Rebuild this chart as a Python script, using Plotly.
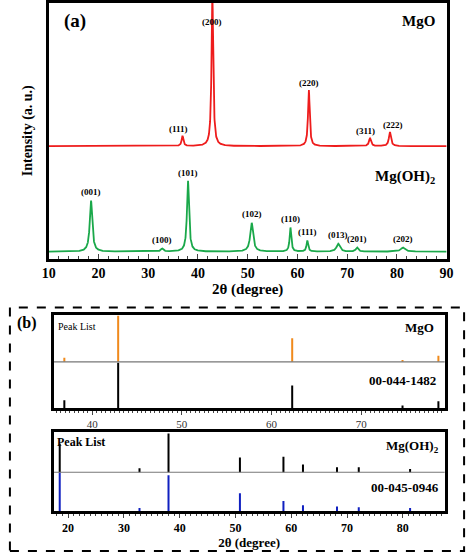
import numpy as np
import plotly.graph_objects as go

W, H = 474, 552
SERIF = "Liberation Serif"

mgo_pos = [36.9, 42.9, 62.3, 74.6, 78.6]
mgo_hkl = ["(111)", "(200)", "(220)", "(311)", "(222)"]
mgo_amp = [0.04, 0.60, 0.22, 0.03, 0.055]
mgo_wid = [0.2, 0.2, 0.2, 0.25, 0.25]
mgo_base = 0.44

moh_pos = [18.5, 32.8, 38.0, 50.8, 58.6, 62.0, 68.2, 72.0, 81.2]
moh_hkl = ["(001)", "(100)", "(101)", "(102)", "(110)", "(111)", "(013)", "(201)", "(202)"]
moh_amp = [0.20, 0.012, 0.277, 0.113, 0.094, 0.043, 0.031, 0.016, 0.016]
moh_wid = [0.3, 0.3, 0.25, 0.35, 0.2, 0.2, 0.4, 0.3, 0.5]
moh_base = 0.027

# ---- panel (b): reference stick patterns ----
ref_mgo_pos = [36.9, 42.9, 62.3, 74.6, 78.6]
ref_mgo_meas = [0.09, 1.0, 0.51, 0.04, 0.13]   # orange, above divider
ref_mgo_card = [0.17, 0.98, 0.49, 0.06, 0.15]  # black, card 00-044-1482

ref_moh_pos = [18.5, 32.8, 38.0, 50.8, 58.6, 62.1, 68.2, 72.1, 81.3]
ref_moh_meas = [0.73, 0.10, 1.0, 0.38, 0.40, 0.20, 0.13, 0.13, 0.08]  # black
ref_moh_card = [1.0, 0.08, 0.92, 0.46, 0.26, 0.15, 0.12, 0.10, 0.08]  # blue


def pattern(x, pos, amp, wid, base):
    y = np.full_like(x, base)
    for p, a, w in zip(pos, amp, wid):
        y += a / (1 + ((x - p) / w) ** 2)
    return y


def sticks(pos, hts, base):
    xs, ys = [], []
    for p, h in zip(pos, hts):
        xs += [p, p, None]
        ys += [base, base + h, None]
    return xs, ys


def px_x(a, b):
    return [a / W, b / W]


def px_y(top, bot):
    return [1 - bot / H, 1 - top / H]


x = np.linspace(10, 90, 3000)
fig = go.Figure()
fig.add_trace(go.Scatter(x=x, y=pattern(x, mgo_pos, mgo_amp, mgo_wid, mgo_base),
                         mode="lines", line=dict(color="#ee1c1c", width=1.8),
                         xaxis="x", yaxis="y"))
fig.add_trace(go.Scatter(x=x, y=pattern(x, moh_pos, moh_amp, moh_wid, moh_base),
                         mode="lines", line=dict(color="#1aa84a", width=1.8),
                         xaxis="x", yaxis="y"))

# panel b top: measured above the divider, card below
for pos, hts, base, col in [(ref_mgo_pos, ref_mgo_meas, 1, "#f08a1c"),
                            (ref_mgo_pos, ref_mgo_card, 0, "black")]:
    xs, ys = sticks(pos, hts, base)
    fig.add_trace(go.Scatter(x=xs, y=ys, mode="lines", line=dict(color=col, width=2),
                             xaxis="x2", yaxis="y2"))
fig.add_trace(go.Scatter(x=[30, 90], y=[1, 1], mode="lines",
                         line=dict(color="#777", width=1.2), xaxis="x2", yaxis="y2"))
# panel b bottom
for pos, hts, base, col in [(ref_moh_pos, ref_moh_meas, 1, "black"),
                            (ref_moh_pos, ref_moh_card, 0, "#1020c0")]:
    xs, ys = sticks(pos, hts, base)
    fig.add_trace(go.Scatter(x=xs, y=ys, mode="lines", line=dict(color=col, width=2),
                             xaxis="x3", yaxis="y3"))
fig.add_trace(go.Scatter(x=[10, 95], y=[1, 1], mode="lines",
                         line=dict(color="#777", width=1.2), xaxis="x3", yaxis="y3"))

frame = dict(showline=True, linecolor="black", linewidth=3, mirror=True,
             showgrid=False, zeroline=False)

fig.update_layout(
    width=W, height=H, margin=dict(l=0, r=0, t=0, b=0),
    paper_bgcolor="white", plot_bgcolor="white", showlegend=False,
    font=dict(family=SERIF, color="black"),
    xaxis=dict(**frame, domain=px_x(43, 453), range=[10, 90], dtick=10,
               ticks="inside", ticklen=5,
               tickfont=dict(family=SERIF, size=14, weight="bold"),
               minor=dict(dtick=2, ticks="inside", ticklen=3),
               title=dict(text="<b>2θ (degree)</b>", font=dict(family=SERIF, size=15),
                          standoff=2)),
    yaxis=dict(**frame, domain=px_y(2, 258), range=[0, 1], showticklabels=False,
               title=dict(text="<b>Intensity (a. u.)</b>", font=dict(family=SERIF, size=14),
                          standoff=10)),
    xaxis2=dict(**frame, domain=px_x(48, 451), range=[35.7, 79.3], dtick=10,
                ticks="outside", ticklen=4, tickfont=dict(family=SERIF, size=11, color="#333"),
                minor=dict(dtick=0.5, ticks="outside", ticklen=2), anchor="y2"),
    yaxis2=dict(**frame, domain=px_y(315, 408), range=[0, 2], showticklabels=False,
                anchor="x2"),
    xaxis3=dict(**frame, domain=px_x(48, 451), range=[17.4, 87.5], dtick=10,
                ticks="outside", ticklen=4, tickfont=dict(family=SERIF, size=12, weight="bold"),
                minor=dict(dtick=1, ticks="outside", ticklen=2), anchor="y3",
                title=dict(text="<b>2θ (degree)</b>", font=dict(family=SERIF, size=13),
                           standoff=2)),
    yaxis3=dict(**frame, domain=px_y(432, 511), range=[0, 2.03], showticklabels=False,
                anchor="x3"),
)

ann = []
for p, a, t in zip(mgo_pos, mgo_amp, mgo_hkl):
    ann.append(dict(x=p, y=mgo_base + a, text=f"<b>{t}</b>", xref="x", yref="y",
                    showarrow=False, yanchor="bottom", font=dict(size=9)))
for p, a, t in zip(moh_pos, moh_amp, moh_hkl):
    ann.append(dict(x=p, y=moh_base + a + 0.005, text=f"<b>{t}</b>", xref="x", yref="y",
                    showarrow=False, yanchor="bottom", font=dict(size=9)))
ann[0]["x"] = 36.0
ann[1].update(y=0.925, yanchor="middle")
ann[3]["x"] = 73.6
ann[4]["x"] = 79.3
ann += [
    dict(x=15.3, y=0.93, text="<b>(a)</b>", xref="x", yref="y", showarrow=False,
         font=dict(size=19)),
    dict(x=88, y=0.93, text="<b>MgO</b>", xref="x", yref="y", showarrow=False,
         xanchor="right", font=dict(size=15)),
    dict(x=88, y=0.32, text="<b>Mg(OH)<sub>2</sub></b>", xref="x", yref="y", showarrow=False,
         xanchor="right", font=dict(size=15)),
    dict(x=8 / W, y=1 - 323 / H, text="<b>(b)</b>", xref="paper", yref="paper",
         showarrow=False, xanchor="left", font=dict(size=16)),
    dict(x=36.0, y=1.93, text="Peak List", xref="x2", yref="y2", showarrow=False,
         xanchor="left", yanchor="top", font=dict(size=10)),
    dict(x=78.3, y=1.75, text="<b>MgO</b>", xref="x2", yref="y2", showarrow=False,
         xanchor="right", font=dict(size=13)),
    dict(x=78.6, y=0.6, text="<b>00-044-1482</b>", xref="x2", yref="y2", showarrow=False,
         xanchor="right", font=dict(size=13)),
    dict(x=17.6, y=2.0, text="<b>Peak List</b>", xref="x3", yref="y3", showarrow=False,
         xanchor="left", yanchor="top", font=dict(size=12)),
    dict(x=86.8, y=1.65, text="<b>Mg(OH)<sub>2</sub></b>", xref="x3", yref="y3",
         showarrow=False, xanchor="right", font=dict(size=13)),
    dict(x=86.9, y=0.6, text="<b>00-045-0946</b>", xref="x3", yref="y3", showarrow=False,
         xanchor="right", font=dict(size=13)),
]
fig.update_layout(annotations=ann)
fig.add_shape(type="rect", xref="paper", yref="paper", x0=3 / W, x1=471 / W,
              y0=1 / H, y1=1 - 307 / H, line=dict(color="black", width=2, dash="dash"))

# drop the default page margin so the figure sits at the window's corner
fig.write_html("out.html", config={"displayModeBar": False},
               post_script="document.body.style.margin='0';")
